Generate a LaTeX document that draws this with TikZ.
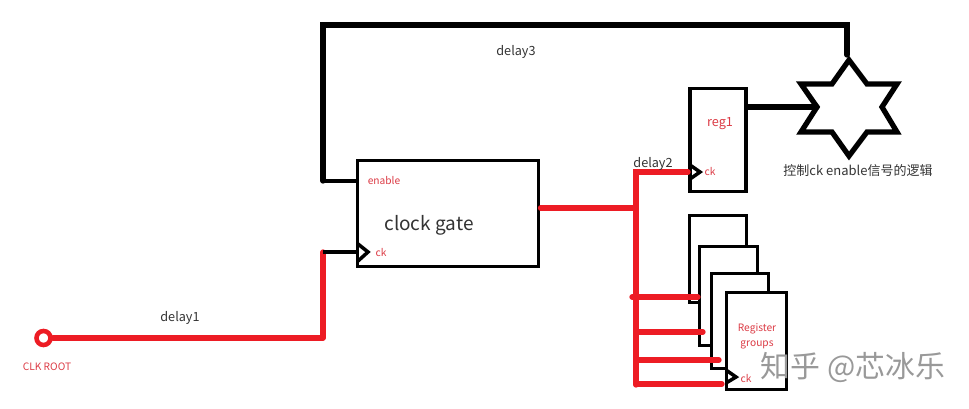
\documentclass[tikz,border=0pt]{standalone}
\usepackage{fontspec}
\setmainfont{Noto Sans CJK SC}
\definecolor{wirered}{HTML}{ED1C24}
\definecolor{labelred}{HTML}{DC3C46}
\definecolor{textgray}{HTML}{333333}
\tikzset{
  box/.style={draw=black, line width=1.1pt, fill=white, inner sep=0pt},
  thickblack/.style={draw=black, line width=1.5pt, line cap=round},
  thinblack/.style={draw=black, line width=1pt},
  thickred/.style={draw=wirered, line width=1.5pt, line cap=round},
  clockmark/.style={draw=black, line width=1pt},
  redtext/.style={text=labelred, font=\fontsize{2.9pt}{3.5pt}\selectfont, inner sep=0pt},
  graytext/.style={text=textgray, font=\fontsize{3.6pt}{4.3pt}\selectfont, inner sep=0pt}
}
\begin{document}
\begin{tikzpicture}[x=0.01cm, y=-0.01cm]
      \useasboundingbox (0, 0) rectangle (969, 409);

      % blocks
      \node[box, minimum width=1.81cm, minimum height=1.06cm] (gate) at(448, 213.5){};
      \node[box, minimum width=.56cm, minimum height=1.03cm] (reg1) at(718, 140){};
      \node[box, minimum width=.57cm, minimum height=.87cm] (group1) at(718, 259){};
      \node[box, minimum width=.58cm, minimum height=.99cm] (group2) at(728.5, 296){};
      \node[box, minimum width=.57cm, minimum height=.95cm] (group3) at(740, 321){};
      \node[box, minimum width=.60cm, minimum height=.97cm] (group4) at(756.5, 341){};
      \node[circle, draw=wirered, line width=1.3pt, fill=white, minimum size=.14cm, inner sep=0pt] (root) at(43.5, 338){};

      \coordinate (bendck) at(323, 252);
      \coordinate (benden) at(323, 181);
      \coordinate (topleft) at(323, 25);
      \coordinate (topright) at(847, 25);
      \coordinate (startop) at(847, 55);
      \coordinate (starleft) at(817, 107);
      \coordinate (trunktop) at(636, 172);
      \coordinate (trunkgate) at(636, 208);
      \coordinate (trunkend) at(636, 385);
      \coordinate (tap1) at(632, 297);
      \coordinate (tap2) at(636, 332);
      \coordinate (tap3) at(636, 360);
      \coordinate (tap4) at(636, 384);

      % control logic
      \draw[thickblack, line join=miter] (849, 60) -- (867, 84) -- (897, 84) -- (882, 107) -- (897, 132)
        -- (867, 132) -- (849, 156) -- (832, 132) -- (801, 132) -- (starleft) -- (801, 84) -- (832, 84) -- cycle;

      % enable path
      \draw[thinblack] (benden) to (gate.west |- benden);
      \draw[thickblack] (benden) to (topleft) to (topright) to (startop);
      \draw[thickblack] (reg1.east |- starleft) to (starleft);

      % clock path
      \draw[thickred] (root.east) to (root.east -| bendck);
      \draw[thickred] (root.east -| bendck) to (bendck);
      \draw[thinblack] (bendck) to (gate.west |- bendck);
      \draw[thickred] (gate.east |- trunkgate) to (trunkgate);
      \draw[thickred] (trunkend) to (trunktop) to (reg1.west |- trunktop);
      \draw[thickred] (tap1) to (698, 297);
      \draw[thickred] (tap2) to (703, 332);
      \draw[thickred] (tap3) to (719, 360);
      \draw[thickred] (tap4) to (722, 384);

      % clock marks
      \draw[clockmark] (358, 244) to (368, 252) to (358, 261);
      \draw[clockmark] (690, 165) to (700, 172) to (690, 179);
      \draw[clockmark] (726, 370) to (736, 377) to (726, 383);

      \node[graytext] (delay3) at(516, 52){delay3};
      \node[graytext] (delay2) at(653, 164){delay2};
      \node[graytext] (delay1) at(180, 318){delay1};
      \node[text=textgray, font=\fontsize{5.4pt}{6pt}\selectfont, inner sep=0pt] (gatename) at(429, 225){clock gate};
      \node[text=textgray, font=\fontsize{3.7pt}{4.4pt}\selectfont, inner sep=0pt] (logicname) at(858, 171){控制ck enable信号的逻辑};

      \node[redtext] (enablepin) at(384, 181){enable};
      \node[redtext] (gateckpin) at(381, 253){ck};
      \node[redtext] (rootname) at(47, 367){CLK ROOT};
      \node[redtext, font=\fontsize{3.6pt}{4.3pt}\selectfont] (regname) at(720, 124){reg1};
      \node[redtext] (regckpin) at(710, 172){ck};
      \node[redtext] (groupname1) at(757, 329){Register};
      \node[redtext] (groupname2) at(757, 345){groups};
      \node[redtext] (groupckpin) at(746, 379){ck};

      \node[text=black!40, font=\fontsize{8.5pt}{9pt}\selectfont, inner sep=0pt] (watermark) at(853, 368){知乎 @芯冰乐};
\end{tikzpicture}
\end{document}
